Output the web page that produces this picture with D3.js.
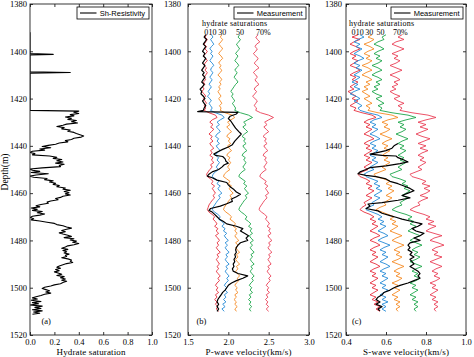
<!DOCTYPE html>
<html><head><meta charset="utf-8">
<script src="https://cdn.jsdelivr.net/npm/d3@7"></script>
<style>body{margin:0;background:#fff}svg{display:block}</style>
</head><body><svg id="c" width="474" height="357"></svg>
<script>
// ---------------- data ----------------
const depthTicks=[1380,1400,1420,1440,1460,1480,1500,1520];
const xTicksA=[0,0.2,0.4,0.6,0.8,1.0];
const xTicksB=[1.5,2.0,2.5,3.0];
const xTicksC=[0.4,0.6,0.8,1.0];
const satLabels=["0","10","30","50","70%"];
const satLabelPosB=[1.70,1.753,1.875,2.095,2.343];
const satLabelPosC=[0.428,0.449,0.496,0.553,0.635];

const depthSh=[1392,1401,1401.3,1401.6,1408.7,1409,1409.3,1425,1425.3,1425.8,1426.3,1426.8,1427.3,1427.8,1428.3,1428.8,1429.3,1429.8,1430.3,1430.8,1431.3,1431.8,1432.3,1432.8,1433.3,1433.8,1434.3,1434.8,1435.3,1435.8,1436.3,1436.8,1437.3,1437.8,1438.3,1438.8,1439.3,1439.8,1440.3,1440.8,1441.3,1441.8,1442.3,1442.8,1443.3,1443.8,1444.3,1444.8,1445.3,1445.8,1446.3,1446.8,1447.3,1447.8,1448.3,1448.8,1449.3,1449.8,1450.3,1450.8,1451.3,1451.8,1452.3,1452.8,1453.3,1453.8,1454.3,1454.8,1455.3,1455.8,1456.3,1456.8,1457.3,1457.8,1458.3,1458.8,1459.3,1459.8,1460.3,1460.8,1461.3,1461.8,1462.3,1462.8,1463.3,1463.8,1464.3,1464.8,1465.3,1465.8,1466.3,1466.8,1467.3,1467.8,1468.3,1468.8,1469.3,1469.8,1470.3,1470.8,1471.3,1471.8,1472.3,1472.8,1473.3,1473.8,1474.3,1474.8,1475.3,1475.8,1476.3,1476.8,1477.3,1477.8,1478.3,1478.8,1479.3,1479.8,1480.3,1480.8,1481.3,1481.8,1482.3,1482.8,1483.3,1483.8,1484.3,1484.8,1485.3,1485.8,1486.3,1486.8,1487.3,1487.8,1488.3,1488.8,1489.3,1489.8,1490.3,1490.8,1491.3,1491.8,1492.3,1492.8,1493.3,1493.8,1494.3,1494.8,1495.3,1495.8,1496.3,1496.8,1497.3,1497.8,1498.3,1498.8,1499.3,1499.8,1500.3,1500.8,1501.3,1501.8,1502.3,1502.8,1503.3,1503.8,1504.3,1504.8,1505.3,1505.8,1506.3,1506.8,1507.3,1507.8,1508.3,1508.8,1509.3,1509.8,1510.3,1510.8,1511.2];
const shValues=[0,0,0.19,0,0,0.33,0,0,0.40,0.36,0.40,0.33,0.36,0.29,0.34,0.31,0.38,0.34,0.39,0.30,0.27,0.22,0.28,0.26,0.33,0.31,0.36,0.38,0.41,0.44,0.42,0.36,0.34,0.29,0.31,0.24,0.21,0.15,0.10,0.17,0.08,0.12,0.02,0.0,0.04,0.02,0.16,0.22,0.19,0.26,0.22,0.27,0.21,0.28,0.24,0.25,0.10,0.0,0.02,0.08,0.01,0.15,0.05,0.0,0.03,0.14,0.12,0.19,0.16,0.21,0.19,0.24,0.22,0.29,0.27,0.33,0.28,0.32,0.29,0.33,0.27,0.25,0.21,0.23,0.17,0.14,0.15,0.09,0.05,0.08,0.01,0.06,0.02,0.10,0.06,0.12,0.08,0.02,0.0,0.03,0.01,0.08,0.14,0.20,0.22,0.27,0.30,0.34,0.30,0.26,0.29,0.24,0.27,0.31,0.34,0.28,0.36,0.33,0.38,0.35,0.40,0.36,0.31,0.29,0.26,0.31,0.27,0.30,0.28,0.32,0.29,0.30,0.26,0.31,0.34,0.33,0.35,0.30,0.27,0.24,0.22,0.25,0.21,0.24,0.20,0.23,0.26,0.22,0.28,0.25,0.29,0.26,0.30,0.27,0.25,0.20,0.17,0.12,0.10,0.13,0.16,0.13,0.17,0.12,0.09,0.05,0.02,0.06,0.01,0.09,0.02,0.07,0.00,0.10,0.04,0.09,0.02,0.10,0.03,0.08,0.02];

const depthGrid=[1393,1394,1395,1396,1397,1398,1399,1400,1401,1402,
1403,1404,1405,1406,1407,1408,1409,1410,1411,1412,
1413,1414,1415,1416,1417,1418,1419,1420,1421,1422,
1423,1424,1425,1426,1427,1428,1429,1430,1431,1432,
1433,1434,1435,1436,1437,1438,1439,1440,1441,1442,
1443,1444,1445,1446,1447,1448,1449,1450,1451,1452,
1453,1454,1455,1456,1457,1458,1459,1460,1461,1462,
1463,1464,1465,1466,1467,1468,1469,1470,1471,1472,
1473,1474,1475,1476,1477,1478,1479,1480,1481,1482,
1483,1484,1485,1486,1487,1488,1489,1490,1491,1492,
1493,1494,1495,1496,1497,1498,1499,1500,1501,1502,
1503,1504,1505,1506,1507,1508,1509,1510];

const vpSat0=[1.73,1.71,1.74,1.72,1.70,1.73,1.71,1.74,1.72,1.69,
1.72,1.74,1.71,1.70,1.73,1.71,1.74,1.72,1.70,1.72,
1.69,1.71,1.68,1.70,1.67,1.70,1.72,1.69,1.71,1.73,
1.70,1.72,1.70,1.76,1.84,1.86,1.80,1.77,1.81,1.78,
1.82,1.79,1.76,1.80,1.78,1.81,1.77,1.79,1.82,1.78,
1.80,1.77,1.81,1.79,1.82,1.78,1.80,1.77,1.75,1.73,
1.74,1.78,1.81,1.79,1.83,1.80,1.82,1.84,1.81,1.83,
1.80,1.78,1.76,1.75,1.74,1.76,1.80,1.83,1.81,1.84,
1.86,1.83,1.87,1.85,1.88,1.84,1.87,1.89,1.86,1.88,
1.85,1.87,1.90,1.86,1.88,1.85,1.87,1.89,1.86,1.88,
1.85,1.87,1.90,1.87,1.89,1.86,1.84,1.87,1.85,1.88,
1.84,1.86,1.83,1.86,1.84,1.87,1.85,1.88];
const vpSat10=[1.79,1.81,1.78,1.80,1.82,1.79,1.77,1.80,1.78,1.81,
1.79,1.77,1.80,1.82,1.79,1.78,1.81,1.79,1.77,1.80,
1.78,1.76,1.79,1.77,1.75,1.77,1.74,1.77,1.79,1.76,
1.78,1.80,1.78,1.84,1.92,1.95,1.90,1.86,1.89,1.85,
1.88,1.90,1.86,1.84,1.88,1.86,1.89,1.85,1.87,1.90,
1.86,1.84,1.88,1.86,1.89,1.87,1.85,1.88,1.84,1.81,
1.80,1.84,1.88,1.86,1.90,1.87,1.89,1.92,1.88,1.90,
1.87,1.85,1.83,1.81,1.80,1.83,1.87,1.90,1.88,1.92,
1.95,1.92,1.96,1.94,1.98,1.95,1.97,2.00,1.96,1.99,
1.96,1.98,2.01,1.97,1.99,1.96,1.98,2.01,1.97,1.99,
1.96,1.98,2.01,1.98,2.00,1.97,1.95,1.98,1.96,1.99,
1.95,1.97,1.94,1.97,1.93,1.96,1.92,1.95];
const vpSat30=[1.92,1.90,1.93,1.91,1.88,1.91,1.93,1.90,1.88,1.91,
1.93,1.90,1.88,1.91,1.89,1.92,1.90,1.87,1.90,1.92,
1.89,1.91,1.88,1.90,1.87,1.89,1.91,1.88,1.90,1.92,
1.89,1.91,1.90,1.96,2.05,2.08,2.03,1.99,2.02,1.98,
2.01,2.04,2.00,1.98,2.02,2.00,2.03,1.99,2.01,2.04,
2.00,1.98,2.02,2.00,2.03,2.01,1.99,2.02,1.98,1.95,
1.94,1.98,2.02,2.00,2.04,2.01,2.03,2.06,2.02,2.04,
2.01,1.99,1.97,1.95,1.94,1.97,2.01,2.04,2.02,2.06,
2.09,2.06,2.10,2.08,2.11,2.08,2.10,2.13,2.09,2.12,
2.09,2.11,2.14,2.10,2.12,2.09,2.11,2.14,2.10,2.12,
2.09,2.11,2.14,2.11,2.13,2.10,2.08,2.11,2.09,2.12,
2.08,2.10,2.07,2.10,2.08,2.11,2.08,2.10];
const vpSat50=[2.14,2.12,2.15,2.13,2.10,2.12,2.14,2.11,2.09,2.12,
2.10,2.08,2.11,2.13,2.10,2.08,2.11,2.09,2.07,2.10,
2.12,2.09,2.07,2.05,2.03,2.06,2.04,2.06,2.08,2.05,
2.07,2.09,2.08,2.15,2.25,2.30,2.24,2.19,2.22,2.18,
2.21,2.24,2.20,2.17,2.21,2.19,2.22,2.18,2.20,2.23,
2.19,2.17,2.21,2.19,2.22,2.20,2.18,2.21,2.17,2.14,
2.13,2.17,2.21,2.19,2.23,2.20,2.22,2.25,2.21,2.23,
2.20,2.18,2.16,2.14,2.13,2.16,2.20,2.23,2.21,2.25,
2.28,2.25,2.29,2.27,2.30,2.26,2.28,2.31,2.27,2.30,
2.27,2.29,2.32,2.28,2.30,2.27,2.29,2.32,2.28,2.30,
2.27,2.29,2.32,2.29,2.31,2.28,2.26,2.29,2.27,2.30,
2.26,2.28,2.25,2.28,2.26,2.29,2.26,2.28];
const vpSat70=[2.37,2.34,2.36,2.39,2.35,2.33,2.36,2.34,2.31,2.34,
2.37,2.35,2.32,2.35,2.38,2.34,2.31,2.34,2.36,2.33,
2.35,2.38,2.34,2.32,2.35,2.33,2.30,2.33,2.36,2.34,
2.32,2.35,2.34,2.40,2.50,2.56,2.50,2.45,2.48,2.44,
2.47,2.50,2.46,2.43,2.47,2.45,2.48,2.44,2.46,2.49,
2.45,2.43,2.47,2.45,2.48,2.46,2.44,2.47,2.43,2.40,
2.39,2.43,2.47,2.45,2.49,2.46,2.48,2.50,2.46,2.48,
2.45,2.43,2.41,2.39,2.38,2.41,2.45,2.48,2.46,2.49,
2.51,2.48,2.52,2.50,2.53,2.49,2.51,2.54,2.50,2.52,
2.49,2.51,2.54,2.50,2.52,2.49,2.51,2.53,2.49,2.51,
2.48,2.50,2.53,2.50,2.52,2.49,2.47,2.50,2.48,2.51,
2.47,2.49,2.46,2.49,2.47,2.50,2.47,2.50];

const depthMeasP=[1393,1394,1395,1396,1397,1398,1399,1400,1401,1402,1403,1404,1405,1406,1407,1408,1409,1410,1411,1412,1413,1414,1415,1416,1417,1418,1419,1420,1421,1422,1423,1424,1425,1425.5,1425.8,1426.5,1427.5,1428.5,1429.5,1431,1432.5,1434,1435,1436.5,1438,1439.5,1440.5,1441.5,1442.5,1443.5,1444,1444.5,1445.5,1446.5,1447.3,1448,1449,1450,1451,1452,1452.8,1453.5,1454.5,1455.5,1456.5,1457.5,1458.5,1459.5,1460.5,1461.5,1462.5,1463.5,1464.5,1465.5,1466.5,1467.3,1468,1469,1470,1471,1472,1473,1474,1475,1476,1477,1478,1479,1480,1481,1482,1483,1484,1485,1486,1487,1488,1489,1490,1491,1492,1493,1494,1495,1496,1497,1498,1499,1500,1501,1502,1503,1504,1505,1506,1507,1508,1509,1510];
const vpMeas=[1.72,1.70,1.73,1.71,1.69,1.72,1.70,1.68,1.71,1.69,1.72,1.70,1.68,1.71,1.69,1.67,1.70,1.68,1.71,1.69,1.67,1.70,1.68,1.65,1.67,1.66,1.69,1.71,1.68,1.70,1.72,1.70,1.69,1.62,2.12,2.10,2.02,2.00,2.03,2.06,2.09,2.13,2.16,2.12,2.08,2.05,2.00,1.93,1.87,1.82,1.84,1.93,1.96,1.97,2.00,1.95,1.92,1.88,1.80,1.76,1.74,1.80,1.86,1.98,2.00,2.03,2.07,2.10,2.15,2.10,2.04,2.05,1.98,1.90,1.78,1.76,1.80,1.83,1.86,1.89,1.94,1.98,2.10,2.18,2.15,2.20,2.25,2.22,2.24,2.15,2.12,2.10,2.09,2.10,2.08,2.09,2.07,2.08,2.06,2.07,2.05,2.06,2.12,2.24,2.18,2.10,2.04,2.00,1.98,1.96,1.93,1.91,1.89,1.87,1.86,1.88,1.86,1.88,1.86];

const vsSat0=[0.46,0.43,0.47,0.44,0.42,0.45,0.47,0.44,0.42,0.45,
0.43,0.46,0.44,0.42,0.45,0.47,0.44,0.42,0.45,0.43,
0.46,0.44,0.42,0.44,0.41,0.43,0.45,0.43,0.46,0.44,
0.42,0.45,0.44,0.48,0.53,0.55,0.51,0.49,0.52,0.50,
0.53,0.51,0.49,0.52,0.54,0.51,0.49,0.52,0.50,0.53,
0.51,0.49,0.52,0.50,0.53,0.51,0.49,0.51,0.48,0.46,
0.47,0.50,0.52,0.50,0.53,0.51,0.54,0.52,0.50,0.53,
0.51,0.49,0.50,0.48,0.47,0.49,0.52,0.54,0.52,0.55,
0.53,0.56,0.54,0.52,0.55,0.57,0.54,0.52,0.55,0.57,
0.54,0.52,0.55,0.53,0.56,0.54,0.52,0.55,0.57,0.54,
0.52,0.55,0.53,0.56,0.54,0.52,0.55,0.53,0.56,0.54,
0.52,0.55,0.53,0.56,0.54,0.57,0.55,0.57];
const vsSat10=[0.47,0.49,0.46,0.44,0.47,0.45,0.48,0.46,0.44,0.47,
0.49,0.46,0.44,0.47,0.45,0.48,0.46,0.44,0.47,0.45,
0.43,0.46,0.44,0.47,0.44,0.42,0.45,0.47,0.44,0.46,
0.48,0.46,0.47,0.51,0.56,0.58,0.54,0.52,0.55,0.53,
0.56,0.54,0.52,0.55,0.57,0.54,0.52,0.55,0.53,0.56,
0.54,0.52,0.55,0.53,0.56,0.54,0.52,0.54,0.51,0.49,
0.50,0.53,0.56,0.54,0.57,0.55,0.58,0.56,0.54,0.57,
0.55,0.53,0.54,0.51,0.50,0.53,0.56,0.58,0.56,0.59,
0.57,0.60,0.58,0.56,0.59,0.61,0.58,0.56,0.59,0.62,
0.59,0.57,0.60,0.58,0.61,0.59,0.57,0.60,0.62,0.59,
0.57,0.60,0.58,0.61,0.59,0.57,0.60,0.58,0.61,0.59,
0.57,0.60,0.58,0.61,0.58,0.60,0.58,0.60];
const vsSat30=[0.53,0.51,0.54,0.52,0.49,0.52,0.54,0.51,0.49,0.52,
0.50,0.53,0.51,0.48,0.51,0.53,0.50,0.48,0.51,0.53,
0.50,0.52,0.49,0.51,0.48,0.50,0.52,0.49,0.51,0.53,
0.50,0.52,0.51,0.56,0.63,0.66,0.61,0.58,0.61,0.59,
0.62,0.60,0.57,0.60,0.63,0.60,0.58,0.61,0.59,0.62,
0.60,0.58,0.61,0.59,0.62,0.60,0.58,0.60,0.57,0.54,
0.55,0.59,0.62,0.60,0.63,0.61,0.64,0.62,0.60,0.63,
0.61,0.59,0.60,0.57,0.55,0.58,0.61,0.64,0.62,0.65,
0.63,0.66,0.64,0.62,0.65,0.68,0.65,0.63,0.66,0.69,
0.66,0.64,0.67,0.65,0.68,0.66,0.63,0.66,0.69,0.66,
0.64,0.67,0.65,0.68,0.66,0.63,0.66,0.64,0.67,0.65,
0.63,0.66,0.64,0.67,0.65,0.67,0.65,0.66];
const vsSat50=[0.60,0.58,0.59,0.56,0.54,0.57,0.59,0.56,0.54,0.57,
0.55,0.58,0.56,0.53,0.56,0.58,0.55,0.53,0.56,0.58,
0.55,0.57,0.54,0.56,0.53,0.55,0.58,0.55,0.57,0.59,
0.56,0.58,0.57,0.63,0.71,0.75,0.70,0.66,0.69,0.67,
0.70,0.68,0.65,0.68,0.71,0.68,0.66,0.69,0.67,0.70,
0.68,0.66,0.69,0.67,0.70,0.68,0.66,0.68,0.65,0.62,
0.63,0.67,0.70,0.68,0.71,0.69,0.72,0.70,0.68,0.71,
0.69,0.67,0.68,0.65,0.63,0.66,0.70,0.73,0.71,0.74,
0.72,0.75,0.73,0.71,0.74,0.77,0.74,0.72,0.75,0.78,
0.75,0.73,0.76,0.74,0.77,0.75,0.72,0.75,0.78,0.75,
0.73,0.76,0.74,0.77,0.75,0.72,0.75,0.73,0.76,0.74,
0.72,0.75,0.73,0.76,0.74,0.76,0.74,0.75];
const vsSat70=[0.68,0.66,0.69,0.65,0.63,0.66,0.69,0.66,0.63,0.66,
0.64,0.67,0.65,0.62,0.65,0.68,0.65,0.62,0.65,0.67,
0.64,0.66,0.63,0.65,0.62,0.64,0.67,0.64,0.66,0.69,
0.66,0.68,0.67,0.73,0.81,0.85,0.80,0.76,0.80,0.77,
0.81,0.78,0.75,0.78,0.82,0.79,0.76,0.80,0.77,0.81,
0.78,0.76,0.79,0.77,0.80,0.78,0.76,0.78,0.75,0.72,
0.73,0.77,0.80,0.78,0.82,0.79,0.82,0.80,0.77,0.81,
0.78,0.76,0.77,0.74,0.72,0.75,0.79,0.82,0.80,0.84,
0.81,0.85,0.82,0.80,0.84,0.88,0.84,0.82,0.86,0.89,
0.85,0.83,0.86,0.84,0.88,0.85,0.82,0.85,0.88,0.85,
0.83,0.86,0.84,0.87,0.85,0.82,0.85,0.83,0.86,0.84,
0.82,0.85,0.83,0.86,0.84,0.86,0.84,0.85];

const depthMeasS=[1439,1440,1441,1442,1443,1443.5,1444,1444.3,1445,1446,1446.8,1447.5,1448.5,1449.2,1450,1451,1451.8,1452.5,1453,1454,1455,1456,1457,1458,1459,1460,1461,1462,1463,1464,1464.6,1465.5,1466.5,1467.5,1468.5,1469.5,1470.2,1471,1472,1473,1474,1475,1476,1477,1478,1479,1480,1481,1482,1483,1484,1485,1486,1487,1488,1489,1490,1491,1492,1493,1494,1495,1496,1497,1498,1499,1500,1501,1502,1503,1504,1505,1506,1507,1508,1509,1509.8];
const vsMeas=[0.66,0.64,0.63,0.60,0.55,0.52,0.58,0.65,0.66,0.69,0.71,0.67,0.60,0.52,0.50,0.47,0.46,0.50,0.55,0.60,0.62,0.66,0.69,0.72,0.74,0.71,0.68,0.72,0.66,0.58,0.51,0.52,0.50,0.56,0.58,0.62,0.65,0.68,0.73,0.78,0.76,0.73,0.75,0.79,0.77,0.74,0.77,0.72,0.71,0.72,0.71,0.73,0.72,0.74,0.72,0.73,0.74,0.72,0.74,0.76,0.77,0.76,0.77,0.74,0.71,0.67,0.64,0.62,0.59,0.58,0.56,0.55,0.57,0.55,0.58,0.56,0.57];

// ---------------- drawing ----------------
const C={red0:"#e62e3c",blue:"#2389d6",orange:"#f58a24",green:"#1ca64a",red70:"#ea3f57",black:"#000"};
const svg=d3.select("#c");
const Y0=4,Y1=335;
const y=d3.scaleLinear().domain([1380,1520]).range([Y0,Y1]);
const SERIF="'Liberation Serif','Times New Roman',serif";
const SANS="'Liberation Sans',Arial,sans-serif";

const panels=[
 {key:"a",x0:30,x1:152,dom:[0,1],ticks:xTicksA,yPad:3,title:"Hydrate saturation",titleW:69,tag:"(a)",tagX:41.5,legend:"Sh-Resistivity",
  series:[{depth:depthSh,values:shValues,color:C.black,width:1.1}]},
 {key:"b",x0:188,x1:309,dom:[1.5,3.0],ticks:xTicksB,yPad:7,title:"P-wave velocity(km/s)",titleW:86,tag:"(b)",tagX:196.5,legend:"Measurement",
  satPos:satLabelPosB,satX:202,
  series:[{depth:depthGrid,values:vpSat0,color:C.red0,width:0.9},
          {depth:depthGrid,values:vpSat10,color:C.blue,width:0.9},
          {depth:depthGrid,values:vpSat30,color:C.orange,width:0.9},
          {depth:depthGrid,values:vpSat50,color:C.green,width:0.9},
          {depth:depthGrid,values:vpSat70,color:C.red70,width:0.9},
          {depth:depthMeasP,values:vpMeas,color:C.black,width:1.2}]},
 {key:"c",x0:346,x1:466,dom:[0.4,1.0],ticks:xTicksC,yPad:4,title:"S-wave velocity(km/s)",titleW:86,tag:"(c)",tagX:352,legend:"Measurement",
  satPos:satLabelPosC,satX:349,
  series:[{depth:depthGrid,values:vsSat0,color:C.red0,width:0.9},
          {depth:depthGrid,values:vsSat10,color:C.blue,width:0.9},
          {depth:depthGrid,values:vsSat30,color:C.orange,width:0.9},
          {depth:depthGrid,values:vsSat50,color:C.green,width:0.9},
          {depth:depthGrid,values:vsSat70,color:C.red70,width:0.9},
          {depth:depthMeasS,values:vsMeas,color:C.black,width:1.2}]}
];

const defs=svg.append("defs");
function styleAxis(g){
  g.select(".domain").remove();
  g.selectAll(".tick line").attr("stroke","#000").attr("stroke-width",0.8);
  g.selectAll("text").attr("font-family",SERIF).attr("font-size",8.5).attr("fill","#000");
}
panels.forEach(p=>{
  const x=d3.scaleLinear().domain(p.dom).range([p.x0,p.x1]);
  const g=svg.append("g");
  defs.append("clipPath").attr("id","clip"+p.key).append("rect")
    .attr("x",p.x0).attr("y",Y0).attr("width",p.x1-p.x0).attr("height",Y1-Y0);
  const lg=g.append("g").attr("clip-path","url(#clip"+p.key+")");
  const line=d3.line().x(d=>x(d[1])).y(d=>y(d[0]));
  p.series.forEach(s=>{
    const pts=s.depth.map((d,i)=>[d,s.values[i]]).filter(d=>d[1]!=null);
    lg.append("path").datum(pts).attr("fill","none").attr("stroke",s.color)
      .attr("stroke-width",s.width).attr("stroke-linejoin","round").attr("d",line);
  });
  // axes (inward ticks)
  g.append("g").attr("transform",`translate(${p.x0},0)`)
    .call(d3.axisLeft(y).tickValues(depthTicks).tickFormat(d3.format("d")).tickSizeInner(-3).tickSizeOuter(0).tickPadding(p.yPad))
    .call(styleAxis);
  g.append("g").attr("transform",`translate(${p.x1},0)`)
    .call(d3.axisRight(y).tickValues(depthTicks).tickFormat("").tickSizeInner(-3).tickSizeOuter(0))
    .call(styleAxis);
  g.append("g").attr("transform",`translate(0,${Y1})`)
    .call(d3.axisBottom(x).tickValues(p.ticks).tickFormat(d3.format(".1f")).tickSizeInner(-3).tickSizeOuter(0).tickPadding(3.6))
    .call(styleAxis);
  g.append("g").attr("transform",`translate(0,${Y0})`)
    .call(d3.axisTop(x).tickValues(p.ticks).tickFormat("").tickSizeInner(-3).tickSizeOuter(0))
    .call(styleAxis);
  g.append("rect").attr("x",p.x0).attr("y",Y0).attr("width",p.x1-p.x0).attr("height",Y1-Y0)
    .attr("fill","none").attr("stroke","#222").attr("stroke-width",0.9);
  // x title
  g.append("text").attr("x",(p.x0+p.x1)/2).attr("y",354.8).attr("text-anchor","middle")
    .attr("font-family",SERIF).attr("font-size",9).attr("textLength",p.titleW).attr("lengthAdjust","spacing").text(p.title);
  // panel tag
  g.append("text").attr("x",p.tagX).attr("y",324).attr("font-family",SERIF).attr("font-size",8.5).text(p.tag);
  // legend
  const lx=p.x1-3-72;
  g.append("rect").attr("x",lx).attr("y",7).attr("width",72).attr("height",12)
    .attr("fill","#fff").attr("stroke","#000").attr("stroke-width",0.8);
  g.append("line").attr("x1",lx+3).attr("x2",lx+19.5).attr("y1",13).attr("y2",13).attr("stroke","#000").attr("stroke-width",1.1);
  g.append("text").attr("x",lx+22.7).attr("y",15.8).attr("font-family",SANS).attr("font-size",7.5).text(p.legend);
  // saturation annotations
  if(p.satPos){
    g.append("text").attr("x",p.satX).attr("y",26).attr("font-family",SERIF).attr("font-size",8).attr("textLength",65).text("hydrate saturations");
    g.selectAll("text.sat").data(satLabels).enter().append("text").attr("class","sat")
      .attr("x",(d,i)=>x(p.satPos[i])).attr("y",35.2).attr("font-family",SERIF).attr("font-size",8).text(d=>d);
  }
});
// y title
svg.append("text").attr("transform","translate(8,172) rotate(-90)").attr("text-anchor","middle")
  .attr("font-family",SERIF).attr("font-size",9.5).text("Depth(m)");
</script>
</body></html>
